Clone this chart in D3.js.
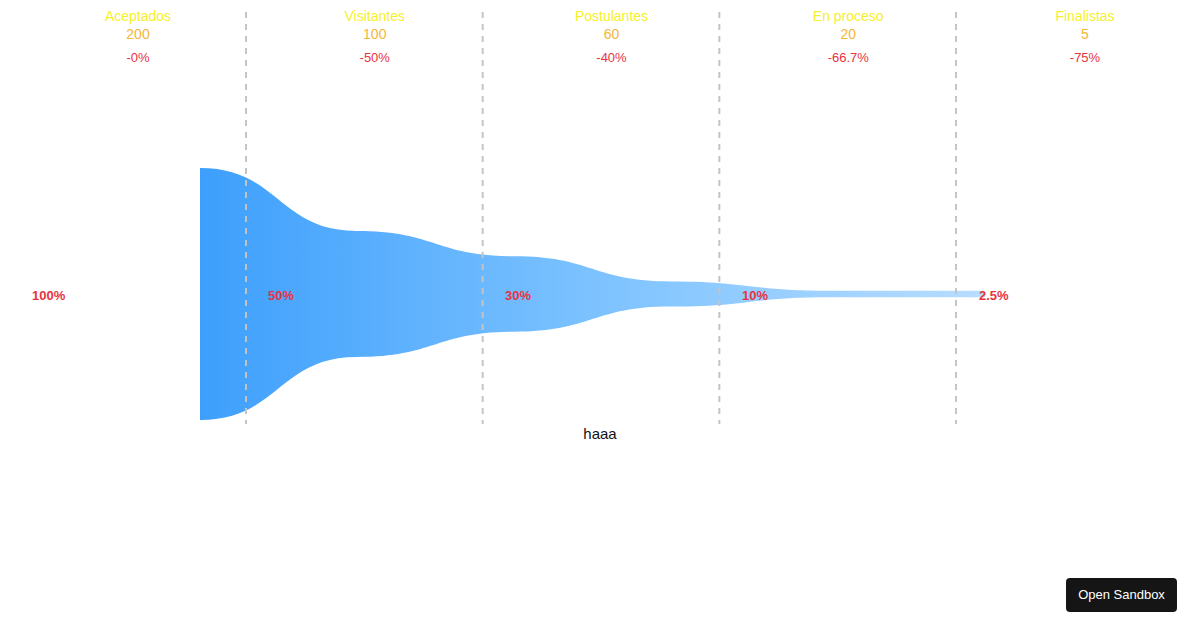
<!DOCTYPE html>
<html><head><meta charset="utf-8">
<script src="https://cdn.jsdelivr.net/npm/d3@7"></script>
<style>body{margin:0;background:#fff;font-family:"Liberation Sans",Arial,sans-serif}</style>
</head><body>
<svg id="c" width="1200" height="630"></svg>
<script>
const labels = ['Aceptados', 'Visitantes', 'Postulantes', 'En proceso', 'Finalistas']
const values = [200, 100, 60, 20, 5]
const changes = ['-0%', '-50%', '-40%', '-66.7%', '-75%']
const shares = ['100%', '50%', '30%', '10%', '2.5%']

const svg = d3.select('#c')
const colX = d3.scaleLinear().domain([0, 4]).range([138, 1085])
const lineX = d3.scaleLinear().domain([1, 4]).range([246, 956])
const labX = d3.scaleLinear().domain([1, 4]).range([268, 979])
const fx = d3.scaleLinear().domain([0, 5]).range([200, 985])
const h = d3.scaleLinear().domain([0, 200]).range([0, 126])
const cy = 294

const defs = svg.append('defs')
const g = defs.append('linearGradient').attr('id', 'gr')
g.append('stop').attr('offset', '0%').attr('stop-color', '#3d9ffc')
g.append('stop').attr('offset', '50%').attr('stop-color', '#7cc2ff')
g.append('stop').attr('offset', '100%').attr('stop-color', '#b8ddff')

const pts = values.concat([values[4]]).map((v, i) => [fx(i), h(v)])
const upper = d3.line().x(d => d[0]).y(d => cy - d[1]).curve(d3.curveBumpX)
const lower = d3.line().x(d => d[0]).y(d => cy + d[1]).curve(d3.curveBumpX)
const dTop = upper(pts)
const dBot = lower(pts.slice().reverse())
svg.append('path').attr('d', dTop + 'L' + dBot.slice(1) + 'Z').attr('fill', 'url(#gr)')

d3.range(1, 5).forEach(i => {
  svg.append('line').attr('x1', lineX(i)).attr('x2', lineX(i)).attr('y1', 12).attr('y2', 424)
    .attr('stroke', '#c4c4c4').attr('stroke-width', 2).attr('stroke-dasharray', '6,6')
})

labels.forEach((l, i) => {
  const x = colX(i)
  svg.append('text').attr('x', x).attr('y', 21).attr('text-anchor', 'middle').attr('font-size', 14).attr('fill', '#f6f02a').text(l)
  svg.append('text').attr('x', x).attr('y', 39).attr('text-anchor', 'middle').attr('font-size', 14).attr('fill', '#f5b53a').text(values[i])
  svg.append('text').attr('x', x).attr('y', 62).attr('text-anchor', 'middle').attr('font-size', 13).attr('fill', '#e8333f').text(changes[i])
  svg.append('text').attr('x', i === 0 ? 32 : labX(i)).attr('y', 300).attr('font-size', 13).attr('font-weight', 'bold').attr('fill', '#e8333f').text(shares[i])
})

svg.append('text').attr('x', 600).attr('y', 439).attr('text-anchor', 'middle').attr('font-size', 15).attr('fill', '#111').text('haaa')

svg.append('rect').attr('x', 1066).attr('y', 578).attr('width', 111).attr('height', 34).attr('rx', 4).attr('fill', '#151515')
svg.append('text').attr('x', 1121.5).attr('y', 599).attr('text-anchor', 'middle').attr('font-size', 13).attr('fill', '#fff').text('Open Sandbox')
</script>
</body></html>
